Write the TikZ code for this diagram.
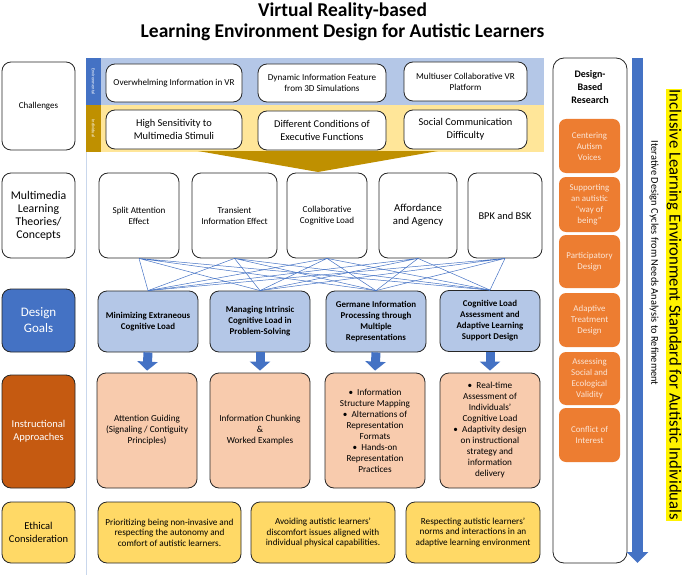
\documentclass[tikz,border=0pt]{standalone}
\usepackage{fontspec}
\setmainfont{Carlito}
\usetikzlibrary{arrows.meta}

\definecolor{darkblue}{HTML}{4472C4}
\definecolor{lightblue}{HTML}{B4C7E7}
\definecolor{paleblue}{HTML}{C9D7EC}
\definecolor{lightgold}{HTML}{FFE699}
\definecolor{gold}{HTML}{BF9000}
\definecolor{rust}{HTML}{C55A11}
\definecolor{peach}{HTML}{F8CBAD}
\definecolor{butter}{HTML}{FFD966}
\definecolor{tangerine}{HTML}{ED7D31}
\definecolor{orangetext}{HTML}{FBE5D6}

\tikzset{
	box/.style={draw=black!85, line width=0.8pt, rounded corners=9pt, align=center, inner sep=1pt, fill=white},
	small/.style={font=\fontsize{9.1}{11}\selectfont},
	mid/.style={font=\fontsize{10.4}{12.8}\selectfont},
	side/.style={box, minimum width=73pt, mid},
	goalbox/.style={box, fill=lightblue, minimum width=100pt, minimum height=61pt, font=\bfseries\fontsize{8.9}{11}\selectfont},
	apprbox/.style={box, fill=peach, minimum width=100pt, minimum height=115pt, font=\fontsize{9.2}{11}\selectfont},
	ethbox/.style={box, fill=butter, minimum height=61pt, font=\fontsize{9.2}{10.6}\selectfont},
	dbrbox/.style={draw=none, fill=tangerine, rounded corners=7pt, align=center, text=orangetext, minimum width=61pt, font=\fontsize{8.9}{11}\selectfont},
	link/.style={darkblue, line width=0.5pt},
	blockarrow/.style={darkblue, line width=9pt, -{Triangle[width=20pt,length=9pt]}, shorten >=2pt}
}

\begin{document}
\begin{tikzpicture}[x=1pt,y=-1pt]
	\useasboundingbox (0,0) rectangle (685,575);

	% title
	\node[align=center, font=\bfseries\fontsize{19.5}{21}\selectfont] (title) at (342.5,22) {Virtual Reality-based\\Learning Environment Design for Autistic Learners};

	% challenge bands
	\fill[lightblue] (86,58) rectangle (544,105);
	\fill[darkblue] (86,58) rectangle (101,105);
	\fill[lightgold] (86,105) rectangle (544,152);
	\fill[gold] (86,105) rectangle (101,152);
	\node[rotate=-90, text=white, font=\fontsize{4.5}{5}\selectfont] (envlab) at (93.5,81.5) {Environmental};
	\node[rotate=-90, text=white, font=\fontsize{4.5}{5}\selectfont] (indlab) at (93.5,128.5) {Individual};
	\fill[gold] (198,151) -- (438,151) -- (318,172) -- cycle;
	\draw[paleblue, line width=0.8pt] (86,152) -- (86,575);

	% left column
	\node[side, minimum height=88pt, font=\fontsize{9}{11}\selectfont] (lchal) at (38.5,106) {Challenges};
	\node[side, minimum height=85pt, font=\fontsize{11.8}{13}\selectfont] (ltheo) at (38.5,215.5) {Multimedia\\Learning\\Theories/\\Concepts};
	\node[side, fill=darkblue, text=white, minimum height=63pt, font=\fontsize{13}{16}\selectfont] (lgoal) at (38.5,320.5) {Design\\Goals};
	\node[side, fill=rust, text=white, minimum height=113pt, font=\fontsize{10.5}{13}\selectfont] (lappr) at (38.5,431.5) {Instructional\\Approaches};
	\node[side, fill=butter, minimum height=61pt, font=\fontsize{10.5}{13}\selectfont] (leth) at (38.5,532.5) {Ethical\\Consideration};

	% challenges
	\node[box, small, minimum width=136pt, minimum height=38pt] (e1) at (174,83) {Overwhelming Information in VR};
	\node[box, small, minimum width=128pt, minimum height=38pt] (e2) at (322,83) {Dynamic Information Feature\\from 3D Simulations};
	\node[box, small, minimum width=123pt, minimum height=39pt] (e3) at (465.5,81.5) {Multiuser Collaborative VR\\Platform};
	\node[box, mid, minimum width=136pt, minimum height=39pt] (i1) at (174,129.5) {High Sensitivity to\\Multimedia Stimuli};
	\node[box, mid, minimum width=128pt, minimum height=39pt] (i2) at (322,130.5) {Different Conditions of\\Executive Functions};
	\node[box, mid, minimum width=123pt, minimum height=39pt] (i3) at (465.5,129.5) {Social Communication\\Difficulty};

	% theories
	\node[box, small, minimum width=80pt, minimum height=85pt] (t1) at (139,215.5) {Split Attention\\Effect};
	\node[box, small, minimum width=85pt, minimum height=85pt] (t2) at (234.5,215.5) {Transient\\Information Effect};
	\node[box, small, minimum width=80pt, minimum height=85pt] (t3) at (327,215.5) {Collaborative\\Cognitive Load};
	\node[box, font=\fontsize{10.7}{13}\selectfont, minimum width=78pt, minimum height=85pt] (t4) at (418,215.5) {Affordance\\and Agency};
	\node[box, font=\fontsize{10.4}{12}\selectfont, minimum width=74pt, minimum height=85pt] (t5) at (505,215.5) {BPK and BSK};

	% design goals
	\node[goalbox] (g1) at (148,321.5) {Minimizing Extraneous\\Cognitive Load};
	\node[goalbox] (g2) at (260,321.5) {Managing Intrinsic\\Cognitive Load in\\Problem-Solving};
	\node[goalbox] (g3) at (376,321.5) {Germane Information\\Processing through\\Multiple\\Representations};
	\node[goalbox] (g4) at (490,321) {Cognitive Load\\Assessment and\\Adaptive Learning\\Support Design};

	\draw[link] (t1.south) -- (g1.north) (t1.south) -- (g2.north) (t1.south) -- (g3.north) (t1.south) -- (g4.north);
	\draw[link] (t2.south) -- (g1.north) (t2.south) -- (g2.north) (t2.south) -- (g3.north) (t2.south) -- (g4.north);
	\draw[link] (t3.south) -- (g1.north) (t3.south) -- (g2.north) (t3.south) -- (g3.north) (t3.south) -- (g4.north);
	\draw[link] (t4.south) -- (g1.north) (t4.south) -- (g2.north) (t4.south) -- (g3.north) (t4.south) -- (g4.north);
	\draw[link] (t5.south) -- (g1.north) (t5.south) -- (g2.north) (t5.south) -- (g3.north) (t5.south) -- (g4.north);

	% instructional approaches
	\node[apprbox] (a1) at (147,430.5) {Attention Guiding\\(Signaling / Contiguity\\Principles)};
	\node[apprbox] (a2) at (260,430.5) {Information Chunking\\\&\\Worked Examples};
	\node[apprbox] (a3) at (375,430.5) {\textbullet\ \ Information\\Structure Mapping\\\textbullet\ \ Alternations of\\Representation\\Formats\\\textbullet\ \ Hands-on\\Representation\\Practices};
	\node[apprbox] (a4) at (490,430.5) {\textbullet\ \ Real-time\\Assessment of\\Individuals'\\Cognitive Load\\\textbullet\ \ Adaptivity design\\on instructional\\strategy and\\information\\delivery};

	\draw[blockarrow] (g1.south) -- (a1.north);
	\draw[blockarrow] (g2.south) -- (a2.north);
	\draw[blockarrow] (g3.south) -- (a3.north);
	\draw[blockarrow] (g4.south) -- (a4.north);

	% ethical considerations
	\node[ethbox, minimum width=143pt] (c1) at (169.5,532.5) {Prioritizing being non-invasive and\\respecting the autonomy and\\comfort of autistic learners.};
	\node[ethbox, minimum width=144pt] (c2) at (323,532.5) {Avoiding autistic learners'\\discomfort issues aligned with\\individual physical capabilities.};
	\node[ethbox, minimum width=134pt] (c3) at (473,532.5) {Respecting autistic learners'\\norms and interactions in an\\adaptive learning environment};

	% design-based research
	\node[box, minimum width=74pt, minimum height=505pt, rounded corners=11pt] (dbr) at (590,310.5) {};
	\node[align=center, font=\bfseries\fontsize{10}{13}\selectfont] (dbrtitle) at (590,87) {Design-\\Based\\Research};
	\node[dbrbox, minimum height=54pt] (o1) at (589.5,146) {Centering\\Autism\\Voices};
	\node[dbrbox, minimum height=55pt] (o2) at (589.5,204.5) {Supporting\\an autistic\\``way of\\being''};
	\node[dbrbox, minimum height=53pt] (o3) at (589.5,261.5) {Participatory\\Design};
	\node[dbrbox, minimum height=54pt] (o4) at (589.5,320) {Adaptive\\Treatment\\Design};
	\node[dbrbox, minimum height=53pt] (o5) at (589.5,378.5) {Assessing\\Social and\\Ecological\\Validity};
	\node[dbrbox, minimum height=54pt] (o6) at (589.5,435) {Conflict of\\Interest};

	% iteration arrow
	\coordinate (itertop) at (637.5,58);
	\coordinate (iterend) at (637.5,563);
	\draw[darkblue, line width=11pt, -{Triangle[width=21pt,length=11pt]}] (itertop) -- (iterend);
	\node[rotate=-90, font=\fontsize{10.4}{12}\selectfont] (iter) at (654,263) {Iterative Design Cycles from Needs Analysis to Refinement};
	\node[rotate=-90, fill=yellow, inner sep=0.5pt, font=\fontsize{16.7}{19}\selectfont] (standard) at (674,305) {Inclusive Learning Environment Standard for Autistic Individuals};
\end{tikzpicture}
\end{document}
